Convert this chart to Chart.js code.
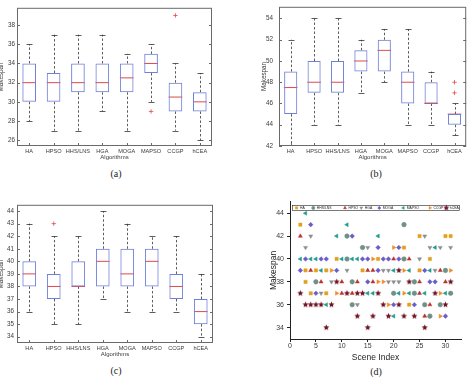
<!DOCTYPE html>
<html>
<head>
<meta charset="utf-8">
<script src="https://cdn.jsdelivr.net/npm/chart.js@4.4.0/dist/chart.umd.min.js"></script>
<style>
  body { margin: 0; width: 474px; height: 377px; overflow: hidden; background: #fff; position: relative; }
  canvas { position: absolute; }
  .tag { position: absolute; width: 30px; margin-left: -15px; text-align: center; font-family: "Liberation Serif", "DejaVu Serif", serif; font-size: 10px; color: #222; line-height: 10px; }
</style>
</head>
<body>
<canvas id="boxA" width="240" height="161" style="left:-3px;top:0px"></canvas>
<canvas id="boxB" width="214" height="162" style="left:260px;top:-1px"></canvas>
<canvas id="boxC" width="240" height="161" style="left:-3px;top:197px"></canvas>
<canvas id="scatterD" width="197" height="164" style="left:269px;top:199px"></canvas>
<div class="tag" style="left:116px;top:169px">(a)</div>
<div class="tag" style="left:376px;top:169px">(b)</div>
<div class="tag" style="left:116px;top:366px">(c)</div>
<div class="tag" style="left:376px;top:367px">(d)</div>
<script>
// Makespan comparison: three box plots + one scatter per scene

const algorithms = ['HA', 'HPSO', 'HHS/LNS', 'HGA', 'MOGA', 'MAPSO', 'CCGP', 'hCEA'];

// (a)
const aLow  = [28, 27, 27, 29, 27, 30, 27, 26];
const aQ1   = [30, 30, 31, 31, 31, 33, 29, 29];
const aMed  = [32, 32, 32, 32, 32.5, 34, 30.5, 30];
const aQ3   = [34, 33, 34, 34, 34, 35, 32, 31];
const aHigh = [36, 37, 37, 37, 35, 36, 34, 33];
const aOut  = [[], [], [], [], [], [29], [39], []];
const aTicks = [26, 28, 30, 32, 34, 36, 38];

// (b)
const bLow  = [42, 44, 44, 47, 48, 44, 44, 43];
const bQ1   = [45, 47, 47, 49, 49, 46, 46, 44];
const bMed  = [47.5, 48, 48, 50, 51, 48, 46, 45];
const bQ3   = [49, 50, 50, 51, 52, 49, 48, 45];
const bHigh = [52, 54, 54, 52, 53, 53, 49, 46];
const bOut  = [[], [], [], [], [], [], [], [47, 48]];
const bTicks = [42, 44, 46, 48, 50, 52, 54];

// (c)
const cLow  = [36, 35, 35, 37, 36, 36, 36, 34];
const cQ1   = [38, 37, 38, 38, 38, 38, 37, 35];
const cMed  = [39, 38, 38, 40, 39, 40, 38, 36];
const cQ3   = [40, 39, 40, 41, 41, 41, 39, 37];
const cHigh = [43, 42, 42, 44, 43, 42, 42, 39];
const cOut  = [[], [43], [], [], [], [], [], []];
const cTicks = [34, 35, 36, 37, 38, 39, 40, 41, 42, 43, 44];

// (d) visible points per algorithm: [scene index, makespan]
const haPts = [[2,43],[25,42],[30,42],[31,42],[22,41],[9,40],[17,40],[27,40],[3,39],[5,39],[7,39],[14,39],[25,39],[3,38],[4,37],[7,37],[23,36]];
const hhsPts = [[22,43],[11,42],[14,41],[11,40],[22,40],[30,39],[5,38],[12,38],[24,38],[20,37],[24,37],[31,37],[12,36],[26,36],[29,36],[27,35]];
const hpsoPts = [[2,42],[20,40],[23,40],[4,39],[15,39],[16,39],[29,39],[6,38],[10,38],[13,38],[16,38],[25,38],[30,38],[10,37],[12,37],[25,37],[27,36],[26,35]];
const hgaPts = [[4,42],[26,42],[3,41],[15,41],[27,41],[29,41],[31,41],[25,40],[11,39],[18,39],[19,39],[28,39],[8,38],[19,38],[20,38],[21,38],[6,37],[13,36]];
const mogaPts = [[4,43],[12,42],[17,41],[21,41],[3,40],[6,40],[7,40],[14,40],[15,40],[18,40],[19,40],[21,40],[2,39],[9,39],[17,39],[26,39],[15,38],[27,38],[28,38],[5,37],[20,36],[24,36],[30,35]];
const mapsoPts = [[3,44],[11,43],[9,42],[17,42],[28,41],[2,40],[4,40],[5,40],[10,40],[12,40],[13,40],[6,39],[20,39],[23,39],[27,39],[15,37],[16,37],[21,37],[23,37],[26,37],[30,37],[7,36],[20,35]];
const ccgpPts = [[20,41],[16,40],[8,39],[22,39],[31,39],[17,38],[18,38],[9,37],[22,37],[29,37],[19,36],[29,35]];
const hceaPts = [[21,39],[9,38],[23,38],[31,38],[2,37],[11,37],[13,37],[14,37],[17,37],[28,37],[3,36],[4,36],[5,36],[6,36],[8,36],[18,36],[21,36],[30,36],[13,35],[16,35],[19,35],[22,35],[24,35],[7,34],[15,34],[26,34]];
const dXTicks = [0, 5, 10, 15, 20, 25, 30];
const dYTicks = [34, 36, 38, 40, 42, 44];

const sansFont = '"Liberation Sans", Arial, sans-serif';
Chart.defaults.font.family = sansFont;
const boxBlue = '#6f80d8';
const medianRed = '#e24848';
const textGray = '#3a3a3a';

const fixedTicks = list => s => { s.ticks = list.map(v => ({ value: v })); };

function whiskerPlugin(low, q1, q3, high) {
    return {
        id: 'whiskers',
        beforeDatasetsDraw(chart) {
            const { ctx, chartArea: a, scales: { x, y } } = chart;
            ctx.save();
            ctx.beginPath();
            ctx.rect(a.left, a.top, a.width, a.height);
            ctx.clip();
            ctx.strokeStyle = '#333';
            ctx.lineWidth = 0.8;
            low.forEach((lo, i) => {
                const px = Math.round(x.getPixelForValue(i)) + 0.5;
                ctx.setLineDash([2.5, 2]);
                ctx.beginPath();
                ctx.moveTo(px, y.getPixelForValue(q3[i]));
                ctx.lineTo(px, y.getPixelForValue(high[i]));
                ctx.moveTo(px, y.getPixelForValue(q1[i]));
                ctx.lineTo(px, y.getPixelForValue(lo));
                ctx.stroke();
                ctx.setLineDash([]);
                ctx.beginPath();
                [lo, high[i]].forEach(v => {
                    const py = Math.round(y.getPixelForValue(v)) + 0.5;
                    ctx.moveTo(px - 3, py);
                    ctx.lineTo(px + 3, py);
                });
                ctx.stroke();
            });
            ctx.restore();
        }
    };
}

const framePlugin = {
    id: 'frame',
    afterDraw(chart) {
        const { ctx, chartArea: a, scales: { x, y } } = chart;
        ctx.save();
        ctx.strokeStyle = '#6a6a6a';
        ctx.lineWidth = 1;
        ctx.strokeRect(a.left + 0.5, a.top + 0.5, a.width - 1, a.height - 1);
        ctx.beginPath();
        y.ticks.forEach(t => {
            const py = Math.round(y.getPixelForValue(t.value)) + 0.5;
            ctx.moveTo(a.left, py); ctx.lineTo(a.left + 3, py);
            ctx.moveTo(a.right, py); ctx.lineTo(a.right - 3, py);
        });
        x.ticks.forEach((t, i) => {
            const px = Math.round(x.getPixelForValue(i)) + 0.5;
            ctx.moveTo(px, a.bottom); ctx.lineTo(px, a.bottom - 3);
        });
        ctx.stroke();
        ctx.restore();
    }
};

function boxChart(id, low, q1, med, q3, high, outliers, yMin, yMax, yTicks, layout) {
    const outlierPts = [];
    outliers.forEach((vals, i) => vals.forEach(v => outlierPts.push({ x: algorithms[i], y: v })));
    return new Chart(document.getElementById(id), {
        type: 'bar',
        data: {
            labels: algorithms,
            datasets: [
                {
                    data: q1.map((v, i) => [v, q3[i]]),
                    backgroundColor: 'rgba(0,0,0,0)',
                    borderColor: boxBlue,
                    borderWidth: 1,
                    borderSkipped: false,
                    barPercentage: 0.56,
                    categoryPercentage: 1
                },
                {
                    type: 'line',
                    data: med,
                    showLine: false,
                    pointStyle: 'line',
                    pointRadius: 6.8,
                    pointHoverRadius: 6.8,
                    pointBorderColor: medianRed,
                    pointBorderWidth: 1
                },
                {
                    type: 'line',
                    data: outlierPts,
                    showLine: false,
                    pointStyle: 'cross',
                    pointRadius: 2.2,
                    pointHoverRadius: 2.2,
                    pointBorderColor: medianRed,
                    pointBorderWidth: 0.8
                }
            ]
        },
        options: {
            responsive: false,
            animation: false,
            layout: { padding: layout.padding },
            plugins: { legend: { display: false }, tooltip: { enabled: false } },
            scales: {
                x: {
                    grid: { display: false, drawTicks: false },
                    border: { display: false },
                    ticks: { font: { size: 5.6 }, color: textGray, padding: layout.xPad, maxRotation: 0, autoSkip: false },
                    title: { display: true, text: 'Algorithms', font: { size: 6 }, color: textGray, padding: 0 },
                    afterFit: s => { s.height = 15; s.paddingLeft = 0; s.paddingRight = 0; }
                },
                y: {
                    min: yMin,
                    max: yMax,
                    grid: { display: false, drawTicks: false },
                    border: { display: false },
                    ticks: { font: { size: 6.3 }, color: textGray, padding: layout.yPad },
                    afterBuildTicks: fixedTicks(yTicks),
                    title: { display: true, text: 'Makespan', font: { size: 6.3 }, color: textGray, padding: 0 },
                    afterFit: s => { s.width = layout.yw; s.paddingTop = 0; s.paddingBottom = 0; }
                }
            }
        },
        plugins: [whiskerPlugin(low, q1, q3, high), framePlugin]
    });
}

boxChart('boxA', aLow, aQ1, aMed, aQ3, aHigh, aOut, 25.4, 39.8, aTicks,
    { padding: { left: 0, right: 25, top: 1, bottom: 0 }, yw: 20, xPad: 2, yPad: 2 });
boxChart('boxB', bLow, bQ1, bMed, bQ3, bHigh, bOut, 42, 55.1, bTicks,
    { padding: { left: 0, right: 1, top: 0, bottom: 0 }, yw: 19, xPad: 2, yPad: 6 });
boxChart('boxC', cLow, cQ1, cMed, cQ3, cHigh, cOut, 33.5, 44.5, cTicks,
    { padding: { left: 0, right: 24, top: 1, bottom: 0 }, yw: 20, xPad: 2, yPad: 3 });

// filled star used for hCEA markers
function starImage(color, r) {
    const c = document.createElement('canvas');
    const s = Math.ceil(r * 2) + 2;
    c.width = c.height = s;
    const g = c.getContext('2d');
    g.fillStyle = color;
    g.beginPath();
    for (let k = 0; k < 10; k++) {
        const rad = k % 2 ? r * 0.45 : r;
        const ang = -Math.PI / 2 + k * Math.PI / 5;
        g.lineTo(s / 2 + rad * Math.cos(ang), s / 2 + rad * Math.sin(ang));
    }
    g.closePath();
    g.fill();
    return c;
}

const scatterSeries = [
    { label: 'HA', pts: haPts, color: '#e2a11c', style: 'rect', rot: 0 },
    { label: 'HHS/LNS', pts: hhsPts, color: '#6f9088', style: 'circle', rot: 0 },
    { label: 'HPSO', pts: hpsoPts, color: '#b8322c', style: 'triangle', rot: 0 },
    { label: 'HGA', pts: hgaPts, color: '#8d8d8d', style: 'triangle', rot: 180 },
    { label: 'MOGA', pts: mogaPts, color: '#6a5cc8', style: 'rectRot', rot: 0 },
    { label: 'MAPSO', pts: mapsoPts, color: '#1f9c8c', style: 'triangle', rot: -90 },
    { label: 'CCGP', pts: ccgpPts, color: '#ef8a24', style: 'triangle', rot: 90 },
    { label: 'hCEA', pts: hceaPts, color: '#6e1222', style: starImage('#6e1222', 3.2), rot: 0 }
];

// legend marker centres, measured from the left edge of the plot area
const legendSlots = [6.6, 23.3, 55, 71.3, 89.3, 113.3, 140, 156.3];

const legendPlugin = {
    id: 'boxedLegend',
    afterDraw(chart) {
        const { ctx, chartArea: a } = chart;
        ctx.save();
        const top = a.top + 3.7, h = 4.8;
        ctx.fillStyle = '#fff';
        ctx.fillRect(a.left + 2.3, top, a.width - 4, h);
        ctx.strokeStyle = '#222';
        ctx.lineWidth = 0.6;
        ctx.strokeRect(a.left + 2.3, top, a.width - 4, h);
        ctx.font = '3.4px ' + sansFont;
        ctx.textBaseline = 'middle';
        scatterSeries.forEach((s, i) => {
            const mx = a.left + legendSlots[i], my = top + h / 2;
            ctx.fillStyle = s.color;
            ctx.strokeStyle = s.color;
            Chart.helpers.drawPoint(ctx, { pointStyle: s.style, radius: 1.6, rotation: s.rot, borderWidth: 0.5 }, mx, my);
            ctx.fillStyle = '#222';
            ctx.fillText(s.label, mx + 3.5, my + 0.2);
        });
        ctx.restore();
    }
};

new Chart(document.getElementById('scatterD'), {
    type: 'scatter',
    data: {
        datasets: scatterSeries.map(s => ({
            label: s.label,
            data: s.pts.map(p => ({ x: p[0], y: p[1] })),
            pointStyle: s.style,
            rotation: s.rot,
            pointRadius: 2.3,
            pointHoverRadius: 2.3,
            backgroundColor: s.color,
            borderColor: s.color,
            borderWidth: 0.5
        }))
    },
    options: {
        responsive: false,
        animation: false,
        layout: { padding: { left: 0, right: 5, top: 2, bottom: 0 } },
        plugins: { legend: { display: false }, tooltip: { enabled: false } },
        scales: {
            x: {
                type: 'linear',
                min: 0,
                max: 33,
                grid: { drawOnChartArea: false, tickLength: 3, color: '#222' },
                border: { color: '#222', width: 1 },
                ticks: { font: { size: 7 }, color: textGray, padding: 0 },
                afterBuildTicks: fixedTicks(dXTicks),
                title: { display: true, text: 'Scene Index', font: { size: 8.5 }, color: '#222', padding: 0 },
                afterFit: s => { s.height = 24; s.paddingLeft = 0; s.paddingRight = 0; }
            },
            y: {
                min: 33,
                max: 45,
                grid: { drawOnChartArea: false, tickLength: 3, color: '#222' },
                border: { color: '#222', width: 1 },
                ticks: { font: { size: 7 }, color: textGray, padding: 3 },
                afterBuildTicks: fixedTicks(dYTicks),
                title: { display: true, text: 'Makespan', font: { size: 8.5 }, color: '#222', padding: 0 },
                afterFit: s => { s.width = 21; s.paddingTop = 0; s.paddingBottom = 0; }
            }
        }
    },
    plugins: [legendPlugin]
});
</script>
</body>
</html>
